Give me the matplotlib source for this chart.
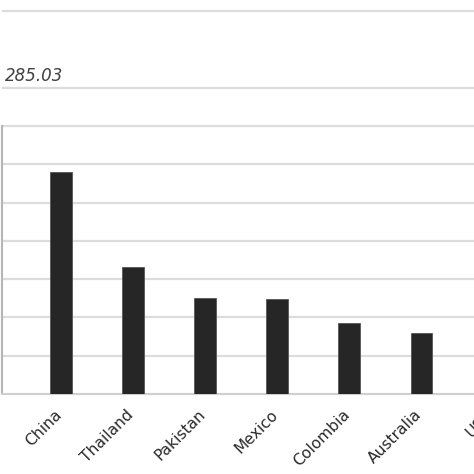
import matplotlib
matplotlib.use("Agg")
import matplotlib.pyplot as plt
from matplotlib.transforms import ScaledTranslation

categories = ["China", "Thailand", "Pakistan", "Mexico", "Colombia", "Australia", "USA"]
values = [290, 166, 125.5, 124, 92.5, 79, 0]
grid_values = [50, 100, 150, 200, 250, 300, 350, 400, 500]
annotation = "285.03"

W, H = 474, 474
fig = plt.figure(figsize=(W / 100, H / 100), dpi=100)

x_left, x_right = -0.818, 6.5
px0, step = 61.0, 72.1
left_px = px0 + step * x_left
right_px = px0 + step * x_right
bottom_px = 394.0
ax = fig.add_axes([left_px / W, (H - bottom_px) / H, (right_px - left_px) / W, bottom_px / H])

ax.bar(range(len(categories)), values, width=0.305, color="#262626",
       edgecolor="#555555", linewidth=0.6, zorder=3)

ax.set_xlim(x_left, x_right)
ax.set_ylim(0, 394 / 38.3 * 50)

ax.set_yticks(grid_values)
ax.set_yticklabels([])
ax.yaxis.grid(True, color="#dcdcdc", linewidth=1.6, zorder=0)
ax.tick_params(axis="y", length=0)

ax.set_xticks(range(len(categories)))
labels = ax.set_xticklabels(categories, rotation=45, ha="right", va="center",
                            rotation_mode="anchor", fontsize=11.2, color="#2a2a2a",
                            family="DejaVu Sans")
ax.tick_params(axis="x", length=0, pad=13)
offset = ScaledTranslation(-2 / 100, 0, fig.dpi_scale_trans)
for lab in ax.get_xticklabels():
    lab.set_transform(lab.get_transform() + offset)

for s in ["top", "right"]:
    ax.spines[s].set_visible(False)
ax.spines["left"].set_bounds(0, 350)
ax.spines["left"].set_color("#b5b5b5")
ax.spines["left"].set_linewidth(1.5)
ax.spines["bottom"].set_color("#cfcfcf")
ax.spines["bottom"].set_linewidth(1.5)

ax.text(-0.78, 415, annotation, fontsize=12, style="italic", color="#404040",
        va="center", ha="left", family="DejaVu Sans")

fig.savefig("out.png", dpi=100)
